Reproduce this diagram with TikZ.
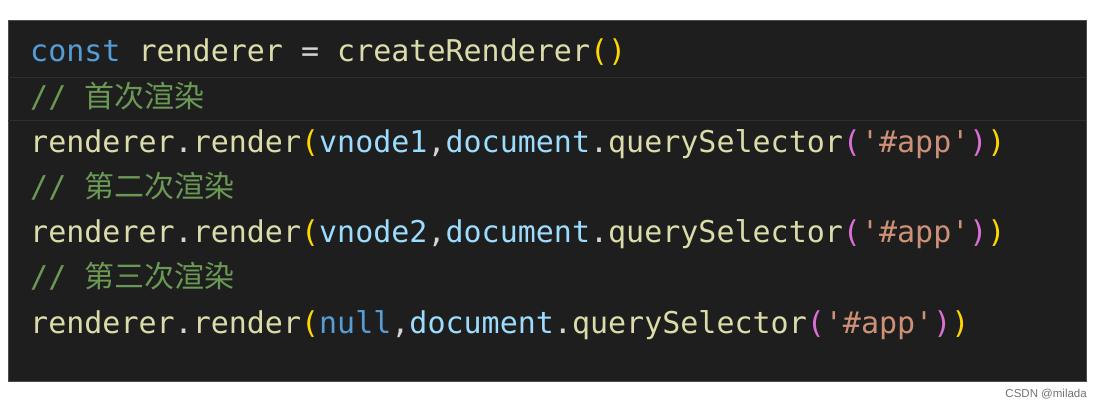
\documentclass[tikz,border=0pt]{standalone}
\usepackage{fontspec}
\setmonofont{DejaVu Sans Mono}
\setsansfont{Liberation Sans}
\newfontfamily\cjk{Noto Sans CJK SC}
\definecolor{bgc}{HTML}{1E1E1E}
\definecolor{kw}{HTML}{569CD6}
\definecolor{fn}{HTML}{DCDCAA}
\definecolor{vr}{HTML}{9CDCFE}
\definecolor{cm}{HTML}{6A9955}
\definecolor{st}{HTML}{CE9178}
\definecolor{pa}{HTML}{FFD700}
\definecolor{pb}{HTML}{DA70D6}
\definecolor{tx}{HTML}{D4D4D4}
\newcommand{\cK}[1]{\textcolor{kw}{#1}}
\newcommand{\cF}[1]{\textcolor{fn}{#1}}
\newcommand{\cV}[1]{\textcolor{vr}{#1}}
\newcommand{\cT}[1]{\textcolor{tx}{#1}}
\newcommand{\cPA}[1]{\textcolor{pa}{#1}}
\newcommand{\cPB}[1]{\textcolor{pb}{#1}}
\newcommand{\cStr}[1]{\textcolor{st}{#1}}
\begin{document}
\begin{tikzpicture}[x=1pt,y=1pt,
  code/.style={anchor=base west,inner sep=0pt,font=\ttfamily\fontsize{30}{30}\selectfont,text=fn},
  cmt/.style={code,text=cm}]
\useasboundingbox (0,0) rectangle (1100,404);
\fill[white] (0,0) rectangle (1100,404);
\fill[bgc] (8,23) rectangle (1086,384);
\draw[color=black!70!white,line width=0.8pt] (8,23) rectangle (1086,384);
\draw[color=white!7!bgc,line width=1pt] (8,326) -- (1086,326) (8,283) -- (1086,283);
\node[code] (l1) at (30,342) {\cK{const} \cF{renderer} \cT{=} \cF{createRenderer}\cPA{()}};
\node[cmt] (l2) at (30,296.8) {// {\cjk 首次渲染}};
\node[code] (l3) at (30,251.6) {renderer\cT{.}render\cPA{(}\cV{vnode1}\cT{,}\cV{document}\cT{.}querySelector\cPB{(}\cStr{'\#app'}\cPB{)}\cPA{)}};
\node[cmt] (l4) at (30,206.4) {// {\cjk 第二次渲染}};
\node[code] (l5) at (30,161.2) {renderer\cT{.}render\cPA{(}\cV{vnode2}\cT{,}\cV{document}\cT{.}querySelector\cPB{(}\cStr{'\#app'}\cPB{)}\cPA{)}};
\node[cmt] (l6) at (30,116) {// {\cjk 第三次渲染}};
\node[code] (l7) at (30,70.8) {renderer\cT{.}render\cPA{(}\cK{null}\cT{,}\cV{document}\cT{.}querySelector\cPB{(}\cStr{'\#app'}\cPB{)}\cPA{)}};
\node[anchor=base east,inner sep=0pt,font=\sffamily\fontsize{11.5}{11.5}\selectfont,text=black!55] (wm) at (1087,6) {CSDN @milada};
\end{tikzpicture}
\end{document}
